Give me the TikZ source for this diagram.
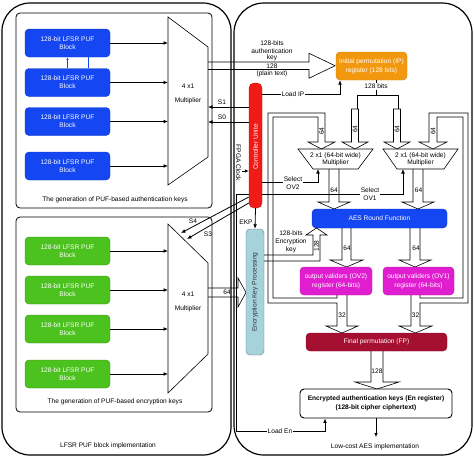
\documentclass[tikz,border=0pt]{standalone}
\usepackage{fontspec}
\setmainfont{Liberation Sans}
\usetikzlibrary{arrows.meta,calc}

\definecolor{pufblue}{HTML}{1446F2}
\definecolor{pufgreen}{HTML}{4CC21E}
\definecolor{ctrlred}{HTML}{F01A16}
\definecolor{iporange}{HTML}{F2980F}
\definecolor{ekpblue}{HTML}{A6D2DC}
\definecolor{ovmag}{HTML}{E01ED0}
\definecolor{fpred}{HTML}{A50F30}

\tikzset{
 lbl/.style={font=\fontsize{6.6}{7.8}\selectfont, inner sep=0.6pt, align=center},
 blk/.style={rounded corners=4pt, minimum width=85pt, minimum height=28pt, font=\fontsize{6.6}{8.2}\selectfont, text=white, align=center, inner sep=0pt},
 bluebk/.style={blk, fill=pufblue, draw=pufblue!80!black},
 greenbk/.style={blk, fill=pufgreen, draw=pufgreen!75!black},
 regbox/.style={rounded corners=4pt, font=\fontsize{6.6}{8.6}\selectfont, text=white, align=center, inner sep=0pt},
 arr/.style={-{Latex[length=4.5pt,width=3.8pt]}, line width=0.8pt},
 thinln/.style={line width=0.7pt},
 band/.style={line width=0.6pt},
 frame/.style={line width=0.8pt, rounded corners=4pt},
 muxshape/.style={line width=0.6pt},
}

% vertical hollow arrow, open at top: x, ytop, ytip, halfw, headhalfw, headlen
\newcommand\hvband[6]{%
 \draw[band] ({#1-#4},#2) -- ({#1-#4},{#3-#6}) -- ({#1-#5},{#3-#6}) -- (#1,#3) -- ({#1+#5},{#3-#6}) -- ({#1+#4},{#3-#6}) -- ({#1+#4},#2);}
% vertical hollow arrow, closed at top
\newcommand\hvbandc[6]{%
 \draw[band] ({#1-#4},#2) -- ({#1-#4},{#3-#6}) -- ({#1-#5},{#3-#6}) -- (#1,#3) -- ({#1+#5},{#3-#6}) -- ({#1+#4},{#3-#6}) -- ({#1+#4},#2) -- cycle;}
% horizontal hollow arrow, open at start: y, xstart, xtip, halfw, headhalfw, headlen
\newcommand\hhband[6]{%
 \draw[band] (#2,{#1-#4}) -- ({#3-#6},{#1-#4}) -- ({#3-#6},{#1-#5}) -- (#3,#1) -- ({#3-#6},{#1+#5}) -- ({#3-#6},{#1+#4}) -- (#2,{#1+#4});}

\begin{document}
\begin{tikzpicture}[x=1pt,y=-1pt]
\useasboundingbox (0,0) rectangle (474,458);

% outer frames
\draw[line width=1.2pt, rounded corners=28pt] (2,3) rectangle (231,455);
\draw[line width=1.2pt, rounded corners=30pt] (234,3) rectangle (472,455);
% inner frames
\draw[frame] (16,13) rectangle (212,208);
\draw[frame] (16,217) rectangle (212,412);

\node[lbl] (capA) at (115,200) {The generation of PUF-based authentication keys};
\node[lbl] (capE) at (115,402) {The generation of PUF-based encryption keys};
\node[lbl] (capL) at (108,446) {LFSR PUF block implementation};
\node[lbl] (capR) at (375,447) {Low-cost AES implementation};

% PUF blocks (authentication)
\node[bluebk] (b1) at (67.5,43) {128-bit LFSR PUF\\Block};
\node[bluebk] (b2) at (67.5,82.5) {128-bit LFSR PUF\\Block};
\node[bluebk] (b3) at (67.5,121.5) {128-bit LFSR PUF\\Block};
\node[bluebk] (b4) at (67.5,166) {128-bit LFSR PUF\\Block};
\draw[-{Latex[length=3pt,width=2.6pt]}, pufblue, line width=0.6pt] (b2.north) -- (b1.south);
\draw[pufblue, line width=0.6pt] ([xshift=21pt]b2.north) -- ([xshift=21pt]b1.south);

% mux 1
\coordinate (m1a) at (168,17);
\coordinate (m1b) at (208,47);
\coordinate (m1c) at (208,157);
\coordinate (m1d) at (168,185);
\draw[muxshape] (m1a) -- (m1b) -- (m1c) -- (m1d) -- cycle;
\node[lbl] (m1t) at (188,86) {4 x1};
\node[lbl] (m1u) at (188,101) {Multiplier};
\foreach \b in {b1,b2,b3,b4} \draw[arr] (\b.east) -- (\b.east -| m1a);

% PUF blocks (encryption)
\node[greenbk] (g1) at (67.5,251) {128-bit LFSR PUF\\Block};
\node[greenbk] (g2) at (67.5,290) {128-bit LFSR PUF\\Block};
\node[greenbk] (g3) at (67.5,329) {128-bit LFSR PUF\\Block};
\node[greenbk] (g4) at (67.5,374) {128-bit LFSR PUF\\Block};

% mux 2 (encryption)
\coordinate (m2a) at (168,224);
\coordinate (m2b) at (208,263);
\coordinate (m2c) at (208,354);
\coordinate (m2d) at (168,393);
\draw[muxshape] (m2a) -- (m2b) -- (m2c) -- (m2d) -- cycle;
\node[lbl] (m2t) at (188,294) {4 x1};
\node[lbl] (m2u) at (188,309) {Multiplier};
\foreach \g in {g1,g2,g3,g4} \draw[arr] (\g.east) -- (\g.east -| m2a);

% authentication key band to IP
\hhband{65.75}{208}{335}{3.75}{12.5}{26}
\node[lbl] (k1) at (272,43) {128-bits};
\node[lbl] (k2) at (272,51) {authentication};
\node[lbl] (k3) at (272,58) {key};
\node[lbl] (k4) at (272,66) {128};
\node[lbl] (k5) at (272,73.5) {(plain text)};

% encryption band to EKP
\hhband{292.5}{208}{246}{4.5}{14.5}{8}
\node[lbl] (e64) at (227,292.5) {64};

% controller
\node[fill=ctrlred, draw=ctrlred!85!black, rounded corners=5pt, minimum width=13pt, minimum height=125pt, inner sep=0pt] (ctrl) at (255.5,145.5) {};
\node[lbl, rotate=90, text=white] (ctrlt) at (255.5,147) {Controller Unite};

% EKP
\node[fill=ekpblue, draw=ekpblue!60!black, rounded corners=4pt, minimum width=18pt, minimum height=126pt, inner sep=0pt] (ekp) at (255,292) {};
\node[lbl, rotate=90, text=black!80] (ekpt) at (255,292) {Encryption Key Processing};
\draw[arr] (ctrl.south) -- (ekp.north);
\node[lbl] (ekpl) at (246,222.5) {EKP};

% IP register
\node[regbox, fill=iporange, draw=iporange!85!black, minimum width=71pt, minimum height=28pt] (ip) at (371.5,66) {Initial permutation (IP)\\register (128 bits)};

% selects and control lines
\coordinate (yS1) at (0,107);
\coordinate (yS0) at (0,122);
\draw[arr] (ctrl.west |- yS1) -- (m1b |- yS1);
\draw[arr] (ctrl.west |- yS0) -- (m1b |- yS0);
\node[lbl] (s1l) at (222,102) {S1};
\node[lbl] (s0l) at (222,117) {S0};

\coordinate (yLIP) at (0,94);
\coordinate (xLIP) at (340,0);
\draw[arr] (ctrl.east |- yLIP) -| (ip.south -| xLIP);
\node[lbl, fill=white] (lip) at (293,94) {Load IP};

\node[lbl, rotate=-90] (fpga) at (238.5,163) {FPGA Clock};
\coordinate (clk) at (242,171);
\draw[-{Latex[length=4pt,width=3.5pt]}, line width=0.7pt] (clk) -- (ctrl.west |- clk);

\coordinate (yS4) at (0,197);
\coordinate (yS3) at (0,203);
\coordinate (s4e) at (181,233);
\coordinate (s3e) at (187,239);
\draw[arr] (ctrl.west |- yS4) -- (s4e);
\draw[arr] (ctrl.west |- yS3) -- (s3e);
\node[lbl] (s4l) at (193,221) {S4};
\node[lbl] (s3l) at (208,234) {S3};

% 128 bits split
\coordinate (j128) at (376,95);
\draw[thinln] (ip.south -| j128) -- (j128);
\draw[thinln] (357,95) -- (398,95);
\draw[thinln] (357,95) -- (357,109);
\draw[thinln] (398,95) -- (398,109);
\node[lbl, fill=white] (l128) at (376,86.5) {128 bits};

% 2x1 multiplexers
\draw[muxshape] (298,149) -- (373,149) -- (358,169) -- (313,169) -- cycle;
\node[lbl] (mxa1) at (335.5,155.5) {2 x1 (64-bit wide)};
\node[lbl] (mxa2) at (335.5,163) {Multiplier};
\draw[muxshape] (383,149) -- (458,149) -- (444,169) -- (397,169) -- cycle;
\node[lbl] (mxb1) at (420.5,155.5) {2 x1 (64-bit wide)};
\node[lbl] (mxb2) at (420.5,163) {Multiplier};

% inputs to muxes from IP
\hvbandc{355}{109}{149}{3.5}{13}{7}
\hvbandc{397}{109}{149}{3.5}{13}{7}
\node[lbl, rotate=90] (i2) at (355,129) {64};
\node[lbl, rotate=90] (i3) at (397,129) {64};

% select OV2 / OV1 / Load En
\coordinate (ySO2) at (0,182);
\coordinate (so2e) at (318,169);
\draw[arr] (ctrl.east |- ySO2) -| (so2e);
\node[lbl, fill=white] (so2l) at (293,183) {Select\\OV2};

\coordinate (ySO1) at (0,194);
\coordinate (so1e) at (403,169);
\draw[arr] (ctrl.east |- ySO1) -| (so1e);
\node[lbl, fill=white] (so1l) at (370,194) {Select\\OV1};

% AES round function
\node[regbox, fill=pufblue, draw=pufblue!80!black, minimum width=135pt, minimum height=19pt] (aes) at (379.5,218.5) {AES Round Function};

% mux outputs to AES
\hvband{334}{169}{209}{5}{16}{7}
\hvband{418}{169}{209}{5}{16}{7}
\node[lbl] (o1) at (334,190) {64};
\node[lbl] (o2) at (418.5,190) {64};

% encryption key band to AES
\draw[band] (264,255) -- (313,255) -- (313,235) -- (306,235) -- (316.5,228) -- (327,235) -- (320,235) -- (320,261) -- (264,261);
\node[lbl, rotate=90] (ek128) at (316.5,246) {128};
\node[lbl] (ekl) at (291,241.5) {128-bits\\Encryption\\key};

% AES outputs
\hvband{346.5}{228}{267}{4.5}{16.5}{7}
\hvband{415}{228}{267}{5}{16}{7}
\node[lbl] (a1) at (347,248) {64};
\node[lbl] (a2) at (416,248) {64};

% output validers
\node[regbox, fill=ovmag, draw=ovmag!80!black, minimum width=72pt, minimum height=28pt] (ov2) at (336,281) {output validers (OV2)\\register (64-bits)};
\node[regbox, fill=ovmag, draw=ovmag!80!black, minimum width=71pt, minimum height=28pt] (ov1) at (418.5,281) {output validers (OV1)\\register (64-bits)};

% OV2 down + left feedback loop
\draw[band] (347,295) -- (347,326) -- (358,326) -- (342,333) -- (326,326) -- (337,326) -- (337,303) -- (268,303) -- (268,113) -- (325,113) -- (325,142) -- (335,142) -- (321.5,149) -- (308,142) -- (318,142) -- (318,117) -- (273,117) -- (273,298) -- (337,298) -- (337,295);
\node[lbl] (d1) at (342,315) {32};
\node[lbl, rotate=90] (i1) at (321.5,131) {64};

% OV1 down + right feedback loop
\draw[band] (411,295) -- (411,326) -- (399,326) -- (415.5,333) -- (432,326) -- (420,326) -- (420,303) -- (468,303) -- (468,113) -- (429,113) -- (429,142) -- (419,142) -- (433,149) -- (447,142) -- (437,142) -- (437,117) -- (463,117) -- (463,298) -- (420,298) -- (420,295);
\node[lbl] (d2) at (415.5,315) {32};
\node[lbl, rotate=90] (i4) at (433,131) {64};

% final permutation
\node[regbox, fill=fpred, draw=fpred!80!black, minimum width=141pt, minimum height=18pt] (fp) at (376.5,342) {Final permutation (FP)};
\hvband{377}{351}{389}{6}{22}{7}
\node[lbl] (f128) at (377,371) {128};

% En register
\node[rounded corners=4pt, draw, line width=0.9pt, fill=white, minimum width=152pt, minimum height=29pt, inner sep=0pt, align=center, font=\fontsize{6.6}{8.6}\selectfont\bfseries] (en) at (376,403.5) {Encrypted authentication keys (En register)\\(128-bit cipher ciphertext)};

% Load En
\coordinate (len1) at (236,194);
\coordinate (len2) at (236,431);
\coordinate (xLEN) at (325,0);
\draw[arr] (ctrl.west |- ySO1) -- (len1) -- (len2) -| (en.south -| xLEN);
\node[lbl, fill=white] (lenl) at (280,431) {Load En};

% output
\coordinate (outend) at (376,437);
\draw[-{Latex[length=4pt,width=3.5pt]}, line width=0.6pt] (en.south) -- (outend);

\end{tikzpicture}
\end{document}
